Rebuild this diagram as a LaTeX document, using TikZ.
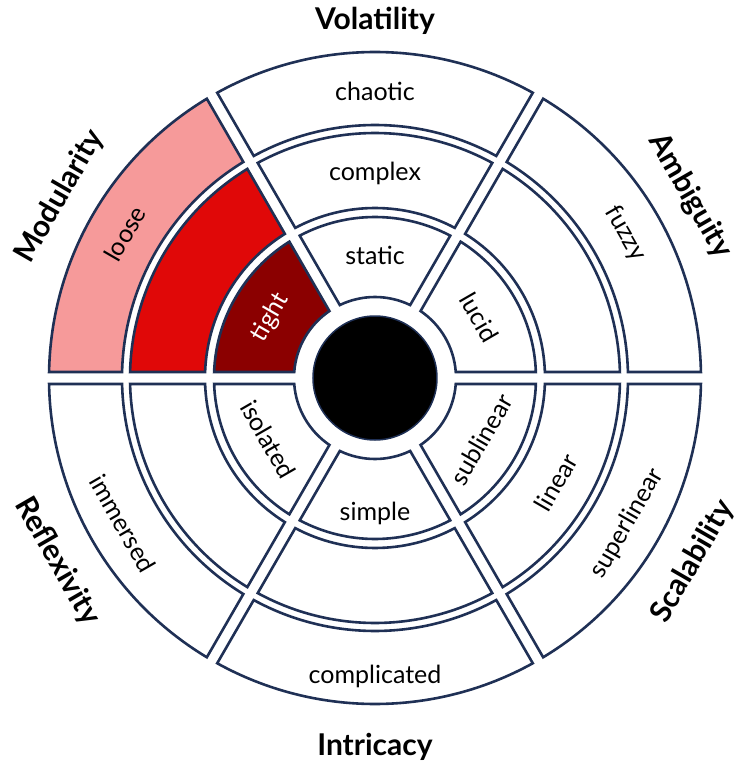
\documentclass[tikz,border=0pt]{standalone}
\usepackage{fontspec}
\setmainfont{Lato}
\definecolor{navy}{HTML}{1F3055}
\definecolor{lightred}{HTML}{F69A9A}
\definecolor{midred}{HTML}{E00808}
\definecolor{darkred}{HTML}{8B0000}
\newcommand\gp{6}
\newcommand\myseg[5]{%
 \pgfmathsetmacro\ia{#1+asin(\gp/#3)}\pgfmathsetmacro\oa{#1+asin(\gp/#4)}%
 \pgfmathsetmacro\ib{#2-asin(\gp/#3)}\pgfmathsetmacro\ob{#2-asin(\gp/#4)}%
 \draw[segline,fill=#5] (\ia:#3pt) -- (\oa:#4pt) arc[start angle=\oa,end angle=\ob,radius=#4pt] -- (\ib:#3pt) arc[start angle=\ib,end angle=\ia,radius=#3pt] -- cycle;}
\tikzset{segline/.style={draw=navy,line width=2.6pt,line join=miter},
 lab/.style={font=\fontsize{25}{28}\selectfont,inner sep=0pt},
 ttl/.style={font=\fontsize{30}{33}\selectfont\bfseries,inner sep=0pt}}
\begin{document}
\begin{tikzpicture}
\path[use as bounding box] (-375pt,-391pt) rectangle (375pt,378pt);
\foreach \a/\c in {0/white,60/white,120/lightred,180/white,240/white,300/white}{
  \myseg{\a}{\a+60}{253}{326}{\c}}
\foreach \a/\c in {0/white,60/white,120/midred,180/white,240/white,300/white}{
  \myseg{\a}{\a+60}{170}{245}{\c}}
\foreach \a/\c in {0/white,60/white,120/darkred,180/white,240/white,300/white}{
  \myseg{\a}{\a+60}{81}{161}{\c}}
\fill[black,draw=navy,line width=1.5pt] (0,0) circle (62pt);
% segment labels
\node[lab] (chaotic) at (90:287pt) {chaotic};
\node[lab] (complex) at (90:205pt) {complex};
\node[lab] (static) at (90:123pt) {static};
\node[lab,rotate=-60] (fuzzy) at (30:289pt) {fuzzy};
\node[lab,rotate=-60] (lucid) at (30:121pt) {lucid};
\node[lab,rotate=60] (superlinear) at (-30:291pt) {superlinear};
\node[lab,rotate=60] (linear) at (-30:209pt) {linear};
\node[lab,rotate=60] (sublinear) at (-30:123pt) {sublinear};
\node[lab] (complicated) at (-90:298pt) {complicated};
\node[lab] (simple) at (-90:135pt) {simple};
\node[lab,rotate=-60] (immersed) at (210:291pt) {immersed};
\node[lab,rotate=-60] (isolated) at (210:123pt) {isolated};
\node[lab,rotate=60] (loose) at (150:289pt) {loose};
\node[lab,rotate=60,white] (tight) at (150:121pt) {tight};
% titles
\node[ttl] (vol) at (90:357pt) {Volatility};
\node[ttl] (int) at (-90:369pt) {Intricacy};
\node[ttl,rotate=-60] (amb) at (30:364pt) {Ambiguity};
\node[ttl,rotate=60] (sca) at (-30:367pt) {Scalability};
\node[ttl,rotate=60] (mod) at (150:364pt) {Modularity};
\node[ttl,rotate=-60] (ref) at (210:367pt) {Reflexivity};
\end{tikzpicture}
\end{document}
